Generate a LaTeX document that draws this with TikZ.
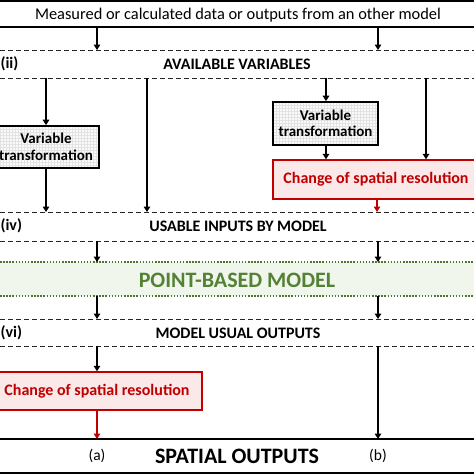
\documentclass[tikz,border=0pt]{standalone}
\usepackage{fontspec}
\setmainfont{Carlito}
\usetikzlibrary{arrows.meta,patterns}
\definecolor{darkred}{HTML}{C00000}
\definecolor{pinkfill}{HTML}{FBE8E8}
\definecolor{dgreen}{HTML}{548235}
\definecolor{lgreen}{HTML}{F1F6ED}
\begin{document}
\begin{tikzpicture}[x=1pt,y=-1pt,
  dline/.style={line width=0.9pt, draw=black!85, dash pattern=on 5pt off 3pt},
  sline/.style={line width=1.6pt, draw=black},
  gline/.style={line width=1.5pt, draw=dgreen!90!black, dash pattern=on 1.5pt off 1.6pt},
  arr/.style={line width=1.7pt, -{Triangle[length=5.5pt,width=6.5pt]}},
  rarr/.style={arr, draw=darkred, -{Triangle[length=5.5pt,width=6.5pt,fill=darkred]}},
  varbox/.style={draw=black, line width=1.6pt, preaction={fill=gray!4}, pattern=grid, pattern color=gray!22,
    align=center, font=\fontsize{15}{16.5}\selectfont\bfseries, inner sep=0pt},
  redbox/.style={draw=darkred, line width=1.4pt, fill=pinkfill, text=darkred,
    font=\fontsize{16}{18}\selectfont\bfseries, inner sep=0pt},
  head/.style={font=\fontsize{16}{18}\selectfont\bfseries},
  tag/.style={font=\fontsize{16}{18}\selectfont\bfseries, anchor=west},
]
\useasboundingbox (0,0) rectangle (474,474);
% frame lines
\draw[line width=3pt] (0,0.5) -- (474,0.5);
\draw[line width=3pt] (0,473.5) -- (474,473.5);
\draw[sline] (0,27) -- (474,27);
\draw[dline] (0,50) -- (474,50);
\draw[dline] (0,78) -- (474,78);
\draw[dline] (0,212) -- (474,212);
\draw[dline] (0,241) -- (474,241);
\fill[lgreen] (0,262) rectangle (474,296);
\draw[gline] (0,262) -- (474,262);
\draw[gline] (0,296) -- (474,296);
\draw[dline] (0,319) -- (474,319);
\draw[dline] (0,346) -- (474,346);
\draw[sline] (0,439) -- (474,439);

% texts
\node[font=\fontsize{16.4}{18}\selectfont] (src) at (238,15) {Measured or calculated data or outputs from an other model};
\node[tag] (t2) at (-3,64) {(ii)};
\node[head] (avail) at (237,64) {AVAILABLE VARIABLES};
\node[tag] (t4) at (-3,226) {(iv)};
\node[head] (usable) at (238,226) {USABLE INPUTS BY MODEL};
\node[font=\fontsize{22}{24}\selectfont\bfseries, text=dgreen] (pbm) at (237,280) {POINT-BASED MODEL};
\node[tag] (t6) at (-3,333) {(vi)};
\node[head] (usual) at (238,333) {MODEL USUAL OUTPUTS};
\node[font=\fontsize{15.5}{18}\selectfont] (la) at (97,456) {(a)};
\node[font=\fontsize{22}{24}\selectfont\bfseries] (spat) at (237,456) {SPATIAL OUTPUTS};
\node[font=\fontsize{15.5}{18}\selectfont] (lb) at (378,456) {(b)};

% boxes
\node[varbox, minimum width=106pt, minimum height=42pt] (vt1) at (46,147) {Variable\\transformation};
\node[varbox, minimum width=105pt, minimum height=43pt] (vt2) at (325.5,123.5) {Variable\\transformation};
\node[redbox, minimum width=206pt, minimum height=39pt] (cr1) at (376,179.5) {Change of spatial resolution};
\node[redbox, minimum width=210pt, minimum height=38pt] (cr2) at (97,391) {Change of spatial resolution};

% coordinates on lines
\coordinate (a1s) at (97,27);   \coordinate (a1e) at (97,50);
\coordinate (b1s) at (378,27);  \coordinate (b1e) at (378,50);
\coordinate (c1) at (46,78);    \coordinate (c1e) at (46,212);
\coordinate (d1) at (147,78);   \coordinate (d1e) at (147,212);
\coordinate (e1) at (326,78);
\coordinate (f1) at (426,78);
\coordinate (g1e) at (377,212);
\coordinate (a2s) at (97,241);  \coordinate (a2e) at (97,262);
\coordinate (b2s) at (378,241); \coordinate (b2e) at (378,262);
\coordinate (a3s) at (97,296);  \coordinate (a3e) at (97,319);
\coordinate (b3s) at (378,296); \coordinate (b3e) at (378,319);
\coordinate (a4s) at (97,346);  \coordinate (a4e) at (97,439);
\coordinate (b4s) at (378,346); \coordinate (b4e) at (378,439);

% connectors
\draw[arr] (a1s) -- (a1e);
\draw[arr] (b1s) -- (b1e);
\draw[arr] (c1) -- (vt1.north);
\draw[arr] (vt1.south) -- (c1e);
\draw[arr] (d1) -- (d1e);
\draw[arr] (e1) -- (e1 |- vt2.north);
\draw[arr] (vt2.south -| e1) -- (e1 |- cr1.north);
\draw[arr] (f1) -- (f1 |- cr1.north);
\draw[rarr] (cr1.south -| g1e) -- (g1e);
\draw[arr] (a2s) -- (a2e);
\draw[arr] (b2s) -- (b2e);
\draw[arr] (a3s) -- (a3e);
\draw[arr] (b3s) -- (b3e);
\draw[arr] (a4s) -- (cr2.north -| a4s);
\draw[rarr] (cr2.south -| a4e) -- (a4e);
\draw[arr] (b4s) -- (b4e);
\end{tikzpicture}
\end{document}
